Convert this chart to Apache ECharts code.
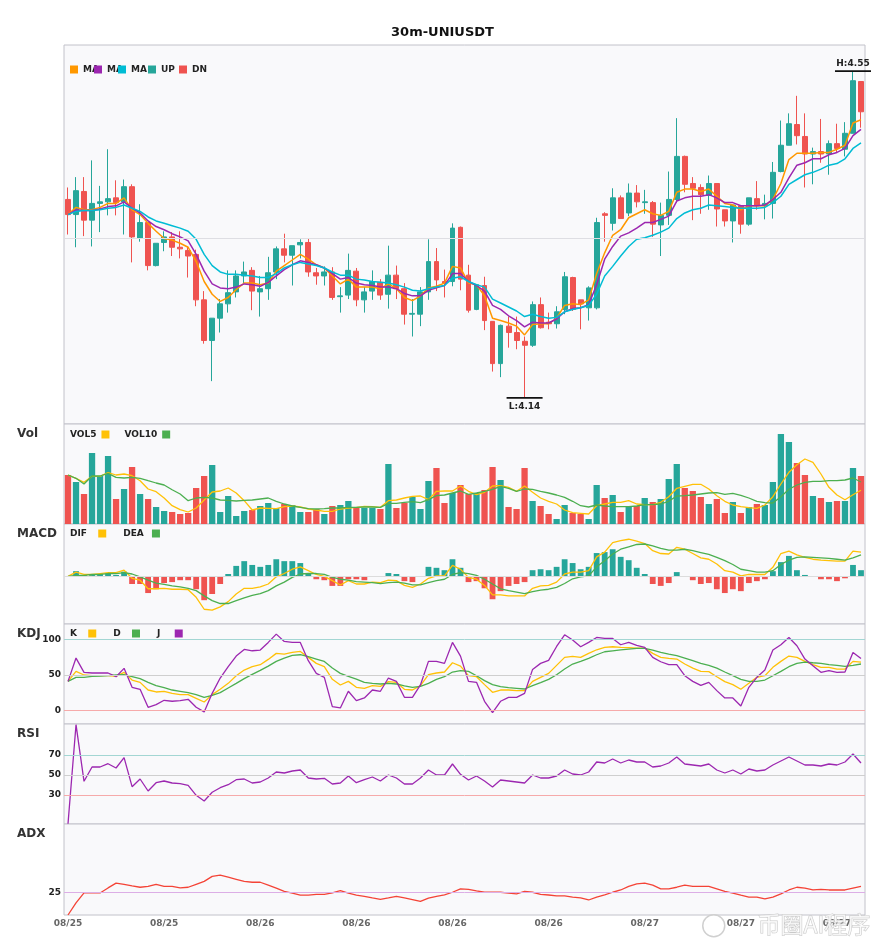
<!DOCTYPE html>
<html>
<head>
<meta charset="utf-8">
<title>30m-UNIUSDT</title>
<script src="https://cdn.jsdelivr.net/npm/echarts@6/dist/echarts.min.js"></script>
<style>
html, body { margin: 0; padding: 0; background: #fff; }
#chart { width: 885px; height: 950px; }
</style>
</head>
<body>
<div id="chart"></div>
<script>
// 30 minute bars, first one 08/25 14:00
let dates = [];
let pad = (n) => String(n).padStart(2, '0');
for (let i = 0; i < 100; i++) {
	let t = new Date(Date.UTC(2025, 7, 25, 14, 0) + i * 1800000);
	dates.push(pad(t.getUTCMonth() + 1) + '/' + pad(t.getUTCDate()) + ' ' + pad(t.getUTCHours()) + ':' + pad(t.getUTCMinutes()));
}

// [open, close, low, high]
let candles = [
	[4.389, 4.370, 4.345, 4.404], [4.370, 4.400, 4.329, 4.417], [4.399, 4.363, 4.343, 4.417], [4.363, 4.384, 4.330, 4.438], [4.384, 4.386, 4.348, 4.406],
	[4.386, 4.390, 4.369, 4.452], [4.391, 4.385, 4.369, 4.413], [4.386, 4.405, 4.345, 4.414], [4.405, 4.342, 4.310, 4.408], [4.340, 4.360, 4.336, 4.383],
	[4.360, 4.306, 4.300, 4.360], [4.306, 4.334, 4.305, 4.334], [4.335, 4.342, 4.324, 4.349], [4.342, 4.329, 4.318, 4.348], [4.329, 4.327, 4.315, 4.349],
	[4.325, 4.318, 4.291, 4.330], [4.320, 4.263, 4.255, 4.326], [4.263, 4.212, 4.208, 4.274], [4.212, 4.240, 4.161, 4.240], [4.240, 4.258, 4.222, 4.264],
	[4.258, 4.272, 4.247, 4.300], [4.273, 4.293, 4.266, 4.300], [4.293, 4.298, 4.283, 4.311], [4.300, 4.274, 4.250, 4.304], [4.273, 4.277, 4.242, 4.293],
	[4.277, 4.297, 4.263, 4.317], [4.298, 4.327, 4.289, 4.330], [4.327, 4.319, 4.310, 4.346], [4.319, 4.331, 4.281, 4.331], [4.332, 4.335, 4.315, 4.339],
	[4.335, 4.298, 4.292, 4.340], [4.297, 4.293, 4.282, 4.303], [4.293, 4.298, 4.281, 4.305], [4.298, 4.266, 4.263, 4.304], [4.267, 4.268, 4.247, 4.279],
	[4.269, 4.300, 4.264, 4.321], [4.299, 4.263, 4.255, 4.303], [4.263, 4.273, 4.247, 4.279], [4.274, 4.286, 4.263, 4.300], [4.285, 4.269, 4.263, 4.289],
	[4.270, 4.294, 4.252, 4.331], [4.294, 4.277, 4.264, 4.306], [4.277, 4.245, 4.232, 4.284], [4.245, 4.246, 4.217, 4.264], [4.245, 4.273, 4.230, 4.279],
	[4.273, 4.311, 4.263, 4.339], [4.311, 4.288, 4.274, 4.328], [4.286, 4.284, 4.266, 4.301], [4.286, 4.353, 4.280, 4.359], [4.354, 4.289, 4.275, 4.355],
	[4.294, 4.250, 4.247, 4.307], [4.251, 4.282, 4.250, 4.282], [4.281, 4.237, 4.225, 4.292], [4.236, 4.183, 4.173, 4.236], [4.183, 4.231, 4.166, 4.232],
	[4.230, 4.222, 4.203, 4.242], [4.222, 4.212, 4.201, 4.242], [4.211, 4.206, 4.140, 4.217], [4.206, 4.257, 4.204, 4.261], [4.257, 4.228, 4.227, 4.266],
	[4.235, 4.233, 4.226, 4.247], [4.233, 4.248, 4.227, 4.255], [4.251, 4.292, 4.245, 4.298], [4.291, 4.251, 4.249, 4.292], [4.263, 4.258, 4.226, 4.263],
	[4.253, 4.278, 4.237, 4.280], [4.253, 4.360, 4.251, 4.366], [4.371, 4.369, 4.336, 4.373], [4.359, 4.391, 4.350, 4.403], [4.391, 4.365, 4.365, 4.394],
	[4.372, 4.397, 4.368, 4.409], [4.397, 4.386, 4.379, 4.407], [4.385, 4.386, 4.371, 4.401], [4.385, 4.358, 4.342, 4.387], [4.357, 4.369, 4.318, 4.385],
	[4.369, 4.389, 4.357, 4.424], [4.389, 4.443, 4.385, 4.491], [4.443, 4.408, 4.398, 4.444], [4.409, 4.403, 4.363, 4.417], [4.404, 4.395, 4.371, 4.408],
	[4.394, 4.409, 4.376, 4.419], [4.409, 4.377, 4.355, 4.409], [4.376, 4.362, 4.355, 4.376], [4.362, 4.382, 4.335, 4.382], [4.381, 4.358, 4.346, 4.382],
	[4.358, 4.391, 4.356, 4.391], [4.390, 4.381, 4.376, 4.412], [4.381, 4.384, 4.364, 4.395], [4.384, 4.423, 4.365, 4.436], [4.424, 4.457, 4.423, 4.488],
	[4.457, 4.484, 4.457, 4.497], [4.483, 4.469, 4.458, 4.519], [4.468, 4.446, 4.404, 4.497], [4.446, 4.449, 4.408, 4.454], [4.449, 4.446, 4.435, 4.490],
	[4.446, 4.459, 4.420, 4.463], [4.459, 4.453, 4.448, 4.484], [4.452, 4.472, 4.443, 4.486], [4.472, 4.538, 4.472, 4.550], [4.537, 4.499, 4.479, 4.537],
];

let ma5 = [
	4.370, 4.379, 4.376, 4.376, 4.379, 4.384, 4.384, 4.391, 4.376, 4.370,
	4.359, 4.349, 4.340, 4.338, 4.334, 4.329, 4.311, 4.286, 4.270, 4.261,
	4.266, 4.276, 4.284, 4.284, 4.282, 4.284, 4.299, 4.306, 4.313, 4.320,
	4.314, 4.307, 4.303, 4.293, 4.283, 4.289, 4.279, 4.279, 4.279, 4.277,
	4.283, 4.277, 4.266, 4.262, 4.268, 4.278, 4.280, 4.284, 4.305, 4.303,
	4.284, 4.282, 4.268, 4.240, 4.237, 4.234, 4.230, 4.219, 4.232, 4.233,
	4.233, 4.240, 4.256, 4.258, 4.257, 4.263, 4.296, 4.322, 4.344, 4.351,
	4.366, 4.371, 4.376, 4.371, 4.369, 4.374, 4.398, 4.402, 4.402, 4.399,
	4.402, 4.393, 4.384, 4.382, 4.376, 4.381, 4.381, 4.381, 4.389, 4.409,
	4.439, 4.447, 4.447, 4.447, 4.448, 4.448, 4.452, 4.457, 4.485, 4.489,
];
let ma10 = [
	4.370, 4.376, 4.375, 4.375, 4.377, 4.380, 4.381, 4.386, 4.378, 4.372,
	4.362, 4.355, 4.351, 4.346, 4.342, 4.337, 4.320, 4.299, 4.283, 4.278,
	4.277, 4.279, 4.283, 4.282, 4.280, 4.285, 4.293, 4.301, 4.307, 4.312,
	4.310, 4.307, 4.303, 4.296, 4.289, 4.291, 4.284, 4.282, 4.281, 4.279,
	4.279, 4.277, 4.271, 4.268, 4.268, 4.275, 4.278, 4.281, 4.296, 4.296,
	4.286, 4.281, 4.274, 4.256, 4.251, 4.243, 4.237, 4.229, 4.235, 4.234,
	4.234, 4.239, 4.248, 4.252, 4.253, 4.257, 4.282, 4.314, 4.330, 4.343,
	4.347, 4.353, 4.360, 4.360, 4.364, 4.368, 4.387, 4.391, 4.393, 4.393,
	4.395, 4.391, 4.385, 4.385, 4.381, 4.381, 4.381, 4.382, 4.389, 4.398,
	4.416, 4.432, 4.435, 4.440, 4.440, 4.445, 4.448, 4.453, 4.469, 4.477,
];
let ma20 = [
	4.370, 4.374, 4.375, 4.375, 4.376, 4.378, 4.379, 4.382, 4.378, 4.374,
	4.367, 4.362, 4.359, 4.356, 4.353, 4.349, 4.339, 4.320, 4.306, 4.298,
	4.295, 4.295, 4.294, 4.293, 4.291, 4.291, 4.296, 4.303, 4.307, 4.310,
	4.308, 4.306, 4.303, 4.298, 4.294, 4.294, 4.289, 4.288, 4.286, 4.285,
	4.284, 4.282, 4.279, 4.275, 4.274, 4.277, 4.279, 4.281, 4.290, 4.292,
	4.286, 4.282, 4.279, 4.264, 4.259, 4.254, 4.249, 4.242, 4.245, 4.242,
	4.240, 4.241, 4.248, 4.251, 4.253, 4.256, 4.270, 4.293, 4.305, 4.318,
	4.330, 4.339, 4.341, 4.344, 4.348, 4.353, 4.365, 4.372, 4.376, 4.378,
	4.382, 4.381, 4.380, 4.379, 4.378, 4.378, 4.378, 4.379, 4.385, 4.393,
	4.408, 4.414, 4.420, 4.423, 4.427, 4.432, 4.434, 4.440, 4.453, 4.460,
];

// volume in K
let volumes = [
	49, 42, 30, 71, 48, 68, 25, 35, 57, 30, 25, 17, 13, 12, 10, 11, 36, 48, 59, 12,
	28, 8, 13, 14, 18, 21, 16, 20, 19, 12, 12, 15, 10, 18, 19, 23, 16, 16, 16, 15,
	60, 16, 21, 27, 15, 43, 56, 21, 31, 39, 30, 31, 34, 57, 44, 17, 15, 56, 23, 18,
	10, 5, 19, 11, 10, 5, 39, 26, 29, 12, 17, 18, 26, 22, 25, 45, 60, 36, 33, 27,
	20, 25, 11, 22, 11, 17, 20, 19, 42, 90, 82, 61, 49, 28, 26, 22, 23, 23, 56, 48,
];
let vol5 = [
	49, 45.7, 41.7, 47.7, 47.7, 51.3, 49, 50, 48.3, 43.3, 35, 32.3, 26, 18.3, 14.3, 12, 16, 24, 32, 33,
	36, 31, 23.3, 14, 16, 15.7, 15.3, 17.3, 18, 17, 15, 14, 12.7, 12.7, 15, 16, 16.7, 17.7, 17.3, 16.7,
	23.3, 24, 26, 27.7, 28, 24.3, 32.7, 33, 33, 38, 32.7, 29.3, 31.7, 38, 38.3, 36.7, 32.7, 38, 31.7, 26,
	22.7, 20, 14, 11.3, 10.7, 10, 18.3, 20, 21.7, 21.7, 23.3, 20, 19.3, 19.3, 21.7, 27.3, 35.7, 37.7, 39.7, 39.7,
	35, 28.3, 22.7, 19, 17.3, 16.3, 15.7, 19, 27.3, 40, 51.7, 59.3, 65, 61.7, 50, 36.7, 29, 24.3, 29.3, 33.7,
];
let vol10 = [
	49, 45.7, 40, 48, 48, 50.7, 46.7, 46, 46.7, 45.7, 43.3, 41, 39, 34.3, 30, 23.3, 26, 26.7, 26, 24,
	23.7, 23, 23.7, 24, 25, 26, 22.7, 20, 18, 16.7, 15.3, 15, 15.3, 16, 16, 16.7, 16.7, 17, 17, 16.7,
	20.7, 20.7, 21.7, 22.3, 21.3, 24.3, 28.3, 29, 31, 33, 29.7, 31, 32.7, 34.7, 37.7, 35.7, 32.7, 35, 34.7, 32.7,
	31, 29, 26.7, 22.7, 18.3, 17, 19, 18, 17.3, 17.3, 17.3, 18, 19.3, 19.3, 20, 22.7, 28, 28.3, 29, 30,
	31, 31.3, 29.7, 30.7, 28.7, 26, 22.7, 21.3, 21, 27.3, 34.7, 39, 41.7, 42.7, 42.7, 43.3, 43.3, 44, 46, 42,
];

let dif = [
	0, 0.0009, 0.0004, 0.0004, 0.0006, 0.0008, 0.0008, 0.0013, -0.0004, -0.0008,
	-0.0026, -0.0026, -0.0025, -0.0027, -0.0027, -0.0028, -0.0044, -0.0069, -0.0071, -0.0064,
	-0.0053, -0.0037, -0.0025, -0.0025, -0.0022, -0.0016, -0.0001, 0.0006, 0.0015, 0.0020,
	0.0012, 0.0004, 0, -0.0009, -0.0018, -0.0009, -0.0016, -0.0016, -0.0012, -0.0013,
	-0.0008, -0.0009, -0.0019, -0.0023, -0.0016, -0.0004, 0.0001, 0.0001, 0.0023, 0.0015,
	-0.0002, -0.0006, -0.0019, -0.0039, -0.0039, -0.0041, -0.0041, -0.0041, -0.0025, -0.0020,
	-0.0019, -0.0012, 0.0005, 0.0009, 0.0009, 0.0012, 0.0041, 0.0051, 0.0071, 0.0075,
	0.0078, 0.0074, 0.0069, 0.0054, 0.0048, 0.0047, 0.0061, 0.0057, 0.0048, 0.0039,
	0.0036, 0.0026, 0.0012, 0.0009, 0.0001, 0.0004, 0.0004, 0.0004, 0.0019, 0.0048,
	0.0053, 0.0045, 0.0040, 0.0036, 0.0034, 0.0033, 0.0032, 0.0032, 0.0053, 0.0051,
];
let dea = [
	0, 0.0002, 0.0002, 0.0004, 0.0004, 0.0006, 0.0006, 0.0008, 0.0005, -0.0001,
	-0.0008, -0.0014, -0.0017, -0.0020, -0.0022, -0.0025, -0.0030, -0.0041, -0.0051, -0.0057,
	-0.0057, -0.0051, -0.0045, -0.0040, -0.0036, -0.0030, -0.0020, -0.0012, -0.0002, 0.0005,
	0.0006, 0.0006, 0.0004, -0.0002, -0.0006, -0.0008, -0.0011, -0.0012, -0.0013, -0.0015,
	-0.0013, -0.0012, -0.0014, -0.0018, -0.0018, -0.0013, -0.0009, -0.0006, 0.0004, 0.0008,
	0.0006, 0.0002, -0.0006, -0.0016, -0.0026, -0.0030, -0.0033, -0.0036, -0.0032, -0.0029,
	-0.0027, -0.0023, -0.0015, -0.0005, -0.0001, 0.0001, 0.0020, 0.0033, 0.0047, 0.0057,
	0.0062, 0.0067, 0.0068, 0.0064, 0.0059, 0.0055, 0.0055, 0.0057, 0.0054, 0.0050,
	0.0046, 0.0040, 0.0033, 0.0025, 0.0015, 0.0012, 0.0009, 0.0009, 0.0012, 0.0025,
	0.0034, 0.0040, 0.0041, 0.0040, 0.0039, 0.0038, 0.0036, 0.0034, 0.0039, 0.0045,
];
let macdHist = [
	0, 0.0011, 0.0003, 0.0004, 0.0005, 0.0007, 0.0003, 0.0010, -0.0016, -0.0016,
	-0.0035, -0.0027, -0.0014, -0.0012, -0.0008, -0.0008, -0.0027, -0.0050, -0.0037, -0.0016,
	0.0005, 0.0022, 0.0032, 0.0024, 0.0020, 0.0024, 0.0036, 0.0032, 0.0032, 0.0028,
	0.0007, -0.0006, -0.0008, -0.0020, -0.0020, -0.0006, -0.0006, -0.0008, 0, -0.0001,
	0.0007, 0.0005, -0.0010, -0.0012, -0.0001, 0.0020, 0.0018, 0.0013, 0.0036, 0.0018,
	-0.0012, -0.0010, -0.0025, -0.0048, -0.0031, -0.0020, -0.0016, -0.0012, 0.0013, 0.0015,
	0.0013, 0.0020, 0.0036, 0.0028, 0.0015, 0.0020, 0.0049, 0.0051, 0.0057, 0.0041,
	0.0034, 0.0018, 0.0005, -0.0016, -0.0020, -0.0014, 0.0009, 0, -0.0008, -0.0016,
	-0.0014, -0.0027, -0.0035, -0.0027, -0.0031, -0.0014, -0.0010, -0.0006, 0.0011, 0.0030,
	0.0043, 0.0013, 0.0003, 0, -0.0006, -0.0006, -0.0010, -0.0004, 0.0024, 0.0013,
];

let kLine = [
	40.8, 54.9, 49.8, 48.8, 48.8, 48.8, 47.9, 53.5, 42.7, 39.4,
	28.6, 25.8, 26.8, 23.9, 22.1, 22.1, 16.9, 11.7, 22.1, 29.6,
	38.0, 48.8, 56.8, 61.5, 64.3, 71.8, 80.3, 79.3, 81.7, 83.1,
	74.7, 66.2, 61.5, 43.7, 35.7, 40.8, 32.4, 31.0, 34.7, 33.8,
	40.4, 39.4, 29.6, 28.6, 34.7, 50.2, 52.6, 54.0, 67.1, 62.4,
	48.8, 47.4, 36.2, 25.4, 28.6, 28.6, 27.7, 27.7, 40.8, 46.5,
	52.1, 63.4, 74.7, 76.1, 74.7, 80.3, 85.4, 88.7, 89.7, 88.7,
	88.3, 87.8, 87.8, 80.3, 74.7, 73.2, 72.3, 65.3, 59.6, 54.9,
	54.5, 47.4, 40.4, 36.2, 29.6, 38.0, 46.5, 48.8, 60.6, 69.0,
	76.5, 74.7, 69.0, 64.3, 60.6, 60.6, 58.2, 58.2, 69.0, 68.1,
];
let dLine = [
	40.8, 46.5, 46.5, 47.9, 48.4, 48.8, 49.8, 50.2, 47.4, 44.6,
	39.4, 34.7, 31.9, 28.6, 26.8, 24.9, 22.1, 18.3, 21.1, 24.9,
	31.5, 38.0, 44.6, 50.7, 56.3, 62.4, 69.0, 73.7, 77.5, 78.4,
	75.6, 72.3, 69.0, 59.6, 52.1, 47.9, 44.1, 39.4, 38.0, 37.1,
	38.0, 37.1, 34.3, 32.4, 33.8, 38.0, 43.7, 47.4, 54.0, 55.9,
	54.9, 48.8, 41.8, 36.2, 33.3, 31.9, 31.0, 30.0, 34.7, 39.0,
	43.7, 50.2, 58.2, 65.3, 69.0, 73.2, 78.4, 82.6, 84.0, 85.4,
	86.4, 87.3, 87.3, 85.0, 81.7, 79.3, 77.0, 73.7, 70.0, 66.2,
	63.4, 59.6, 54.0, 48.8, 43.7, 40.8, 40.8, 42.7, 48.8, 54.9,
	61.5, 66.2, 68.1, 67.1, 66.2, 64.3, 63.4, 62.0, 63.4, 65.3,
];
let jLine = [
	40.8, 73.7, 53.5, 52.6, 52.6, 52.6, 47.4, 59.2, 32.4, 29.6,
	4.2, 8.0, 14.1, 12.7, 13.6, 15.5, 4.2, -2.3, 23.9, 45.5,
	61.5, 76.5, 85.9, 84.0, 85.0, 95.8, 107.5, 97.2, 95.8, 95.8,
	70.0, 52.1, 46.5, 5.2, 3.3, 26.8, 13.6, 17.4, 28.6, 26.8,
	45.5, 40.8, 18.3, 18.3, 35.7, 69.0, 69.0, 66.2, 95.8, 76.5,
	40.8, 39.4, 12.7, -3.3, 12.7, 18.3, 18.3, 23.9, 57.7, 66.2,
	70.4, 90.1, 106.6, 99.1, 89.7, 95.8, 102.8, 101.4, 101.4, 92.5,
	95.8, 91.6, 88.7, 74.7, 68.5, 64.3, 64.3, 48.8, 40.8, 35.2,
	39.4, 27.7, 17.4, 17.4, 6.1, 32.4, 46.5, 56.8, 85.0, 92.5,
	102.8, 91.1, 72.3, 62.9, 53.5, 55.9, 53.5, 54.0, 81.7, 73.2,
];

let rsi = [
	1.3, 100.3, 43.7, 58, 58, 61.3, 57, 67.3, 38.3, 46,
	34, 42.3, 44, 42, 41.3, 39.7, 29.7, 24, 32.7, 37.3,
	40.3, 45.3, 46, 42, 43, 47, 53, 52, 54, 55,
	47, 46, 46.7, 41, 42, 49, 42.3, 45.3, 48, 44,
	50, 47, 41, 41, 47, 55, 50, 50, 61, 50.7,
	45, 49, 44, 38, 45, 44, 43, 42, 50, 47,
	47, 49, 55, 51, 50, 53, 63, 62, 66, 62,
	65, 63, 63, 58, 59, 62, 68, 61, 60, 59,
	61, 55, 52, 55, 51, 56, 54, 55, 60, 64,
	68, 64, 60, 60, 59, 61, 60, 63, 71, 62,
];
let adx = [
	15, 20.3, 24.7, 24.7, 24.7, 26.9, 29, 28.5, 27.8, 27.2,
	27.6, 28.5, 27.6, 27.6, 26.9, 27.2, 28.5, 29.8, 32, 32.5,
	31.6, 30.7, 29.8, 29.4, 29.4, 28.1, 26.8, 25.4, 24.6, 23.7,
	23.7, 24.1, 24.1, 24.7, 25.7, 24.6, 23.7, 23.2, 22.5, 21.9,
	22.5, 23.2, 22.5, 21.8, 21, 22.4, 23.2, 23.8, 25, 26.5,
	26.3, 25.6, 25, 25, 25, 24.6, 24.3, 25.4, 25, 24.1,
	23.8, 23.4, 23.4, 22.9, 22.5, 21.6, 22.9, 23.8, 25, 26,
	27.6, 28.7, 29, 28.1, 26.5, 26.5, 27.2, 28.1, 27.6, 27.6,
	27.6, 26.5, 25.4, 24.6, 23.7, 22.9, 22.9, 22.1, 22.9, 24.3,
	26, 27.2, 26.8, 26, 26.3, 26, 26, 26, 26.8, 27.6,
];

const UP = '#26a69a';
const DN = '#ef5350';
const FONT = 'DejaVu Sans';
const textBold = {fontFamily: FONT, fontWeight: 'bold', fontSize: 9, color: '#222'};

let panels = [
	{top: 45, height: 379},
	{top: 424, height: 100},
	{top: 524, height: 100},
	{top: 624, height: 100},
	{top: 724, height: 100},
	{top: 824, height: 91},
];
let ranges = [
	[4.1072, 4.5828],
	[0, 100],
	[-0.01, 0.011],
	[-19.4, 121.8],
	[1, 101],
	[15, 55],
];

let guide = (value, color, withLabel) => ({
	yAxis: value,
	lineStyle: {color: color, width: 1, type: 'solid'},
	label: withLabel
		? {show: true, position: 'start', distance: 3, formatter: String(value), ...textBold}
		: {show: false},
});
let guides = (items) => ({
	silent: true,
	symbol: 'none',
	animation: false,
	data: items,
});
let line = (name, data, color, axis, width) => ({
	name: name,
	type: 'line',
	xAxisIndex: axis,
	yAxisIndex: axis,
	data: data,
	symbol: 'none',
	lineStyle: {color: color, width: width || 1.3},
	itemStyle: {color: color},
	z: 3,
});

let mainLegend = [
	{name: 'MA5', left: 70},
	{name: 'MA10', left: 94},
	{name: 'MA20', left: 118},
	{name: 'UP', left: 148},
	{name: 'DN', left: 179},
].map((item) => ({
	data: [item.name],
	left: item.left,
	top: 65,
	padding: 0,
	icon: 'rect',
	itemWidth: 8,
	itemHeight: 8,
	textStyle: item.name.startsWith('MA')
		? {...textBold, width: 17, overflow: 'truncate', ellipsis: ''}
		: textBold,
}));
let padNames = {DIF: 'DIF  ', DEA: 'DEA ', K: 'K  ', D: 'D  ', J: 'J   '};
let subLegend = (names, top, gap) => ({
	data: names,
	left: 70,
	top: top,
	padding: 0,
	align: 'right',
	icon: 'rect',
	itemWidth: 8,
	itemHeight: 8,
	itemGap: gap,
	formatter: (name) => padNames[name] || name,
	textStyle: textBold,
});

let panelTitle = (text, top) => ({
	text: text,
	left: 17,
	top: top,
	padding: 0,
	textStyle: {fontFamily: FONT, fontWeight: 'bold', fontSize: 12, color: '#333'},
});

let option = {
	animation: false,
	backgroundColor: '#ffffff',
	title: [
		{
			text: '30m-UNIUSDT',
			left: 'center',
			top: 26,
			padding: 0,
			textStyle: {fontFamily: FONT, fontWeight: 'bold', fontSize: 13, color: '#111'},
		},
		panelTitle('Vol', 428),
		panelTitle('MACD', 528),
		panelTitle('KDJ', 628),
		panelTitle('RSI', 728),
		panelTitle('ADX', 828),
	],
	legend: [
		...mainLegend,
		subLegend(['VOL5', 'VOL10'], 430, 15),
		subLegend(['DIF', 'DEA'], 529, 17),
		subLegend(['K', 'D', 'J'], 629, 17),
	],
	grid: panels.map((p) => ({
		left: 64,
		width: 801,
		top: p.top,
		height: p.height,
		show: true,
		backgroundColor: '#f9f9fb',
		borderColor: '#c2c2ca',
		borderWidth: 1,
	})),
	xAxis: panels.map((p, i) => ({
		type: 'category',
		gridIndex: i,
		data: dates,
		boundaryGap: true,
		axisLine: {show: false},
		axisTick: {show: false},
		splitLine: {show: false},
		axisLabel: i === panels.length - 1
			? {
				show: true,
				interval: 11,
				margin: 4,
				formatter: (v) => v.slice(0, 5),
				fontFamily: FONT,
				fontWeight: 'bold',
				fontSize: 9,
				color: '#666',
			}
			: {show: false},
	})),
	yAxis: panels.map((p, i) => ({
		type: 'value',
		gridIndex: i,
		min: ranges[i][0],
		max: ranges[i][1],
		show: false,
	})),
	series: [
		{
			name: '30m-UNIUSDT',
			type: 'candlestick',
			xAxisIndex: 0,
			yAxisIndex: 0,
			data: candles,
			barWidth: 5.4,
			itemStyle: {
				color: UP,
				color0: DN,
				borderColor: UP,
				borderColor0: DN,
				borderWidth: 1,
			},
			markLine: guides([guide(4.345, '#dedee3', false)]),
			markPoint: {
				silent: true,
				animation: false,
				symbol: 'rect',
				symbolSize: [36, 1.6],
				itemStyle: {color: '#111'},
				data: [
					{
						coord: [dates[98], 4.55],
						label: {show: true, position: 'top', distance: 2, formatter: 'H:4.55', ...textBold},
					},
					{
						coord: [dates[57], 4.14],
						label: {show: true, position: 'bottom', distance: 3, formatter: 'L:4.14', ...textBold},
					},
				],
			},
		},
		line('MA5', ma5, '#ff9800', 0, 1.5),
		line('MA10', ma10, '#9c27b0', 0, 1.5),
		line('MA20', ma20, '#00bcd4', 0, 1.5),
		{name: 'UP', type: 'bar', xAxisIndex: 0, yAxisIndex: 0, data: [], itemStyle: {color: UP}},
		{name: 'DN', type: 'bar', xAxisIndex: 0, yAxisIndex: 0, data: [], itemStyle: {color: DN}},
		{
			name: 'Volume',
			type: 'bar',
			xAxisIndex: 1,
			yAxisIndex: 1,
			barWidth: 6.3,
			data: volumes.map((v, i) => ({
				value: v,
				itemStyle: {color: candles[i][1] >= candles[i][0] ? UP : DN},
			})),
		},
		line('VOL5', vol5, '#ffc107', 1, 1.3),
		line('VOL10', vol10, '#4caf50', 1, 1.3),
		{
			name: 'MACD',
			type: 'bar',
			xAxisIndex: 2,
			yAxisIndex: 2,
			barWidth: 5.8,
			data: macdHist.map((v) => ({value: v, itemStyle: {color: v >= 0 ? UP : DN}})),
			markLine: guides([guide(0, '#dcdcdc', false)]),
		},
		line('DIF', dif, '#ffc107', 2, 1.3),
		line('DEA', dea, '#4caf50', 2, 1.3),
		{
			...line('K', kLine, '#ffc107', 3, 1.3),
			markLine: guides([
				guide(100, '#a3d6d3', true),
				guide(50, '#cfcfcf', true),
				guide(0, '#f6aaaa', true),
			]),
		},
		line('D', dLine, '#4caf50', 3, 1.3),
		line('J', jLine, '#9c27b0', 3, 1.3),
		{
			...line('RSI', rsi, '#9c27b0', 4, 1.3),
			markLine: guides([
				guide(70, '#a3d6d3', true),
				guide(50, '#cfcfcf', true),
				guide(30, '#f6aaaa', true),
			]),
		},
		{
			...line('ADX', adx, '#f44336', 5, 1.3),
			markLine: guides([guide(25, '#dcaee6', true)]),
		},
	],
	graphic: [
		{
			type: 'circle',
			left: 702,
			top: 914,
			z: 100,
			silent: true,
			shape: {r: 11},
			style: {fill: 'rgba(255,255,255,0.6)', stroke: '#d0d0d0', lineWidth: 1.5},
		},
		{
			type: 'text',
			left: 757,
			top: 912,
			z: 100,
			silent: true,
			style: {
				text: '币圈AI程序',
				font: '23px "Noto Sans CJK SC"',
				fill: 'rgba(255,255,255,0.7)',
				stroke: '#c9c9c9',
				lineWidth: 1,
			},
		},
	],
};

let chart = echarts.init(document.getElementById('chart'));
chart.setOption(option);
</script>
</body>
</html>
